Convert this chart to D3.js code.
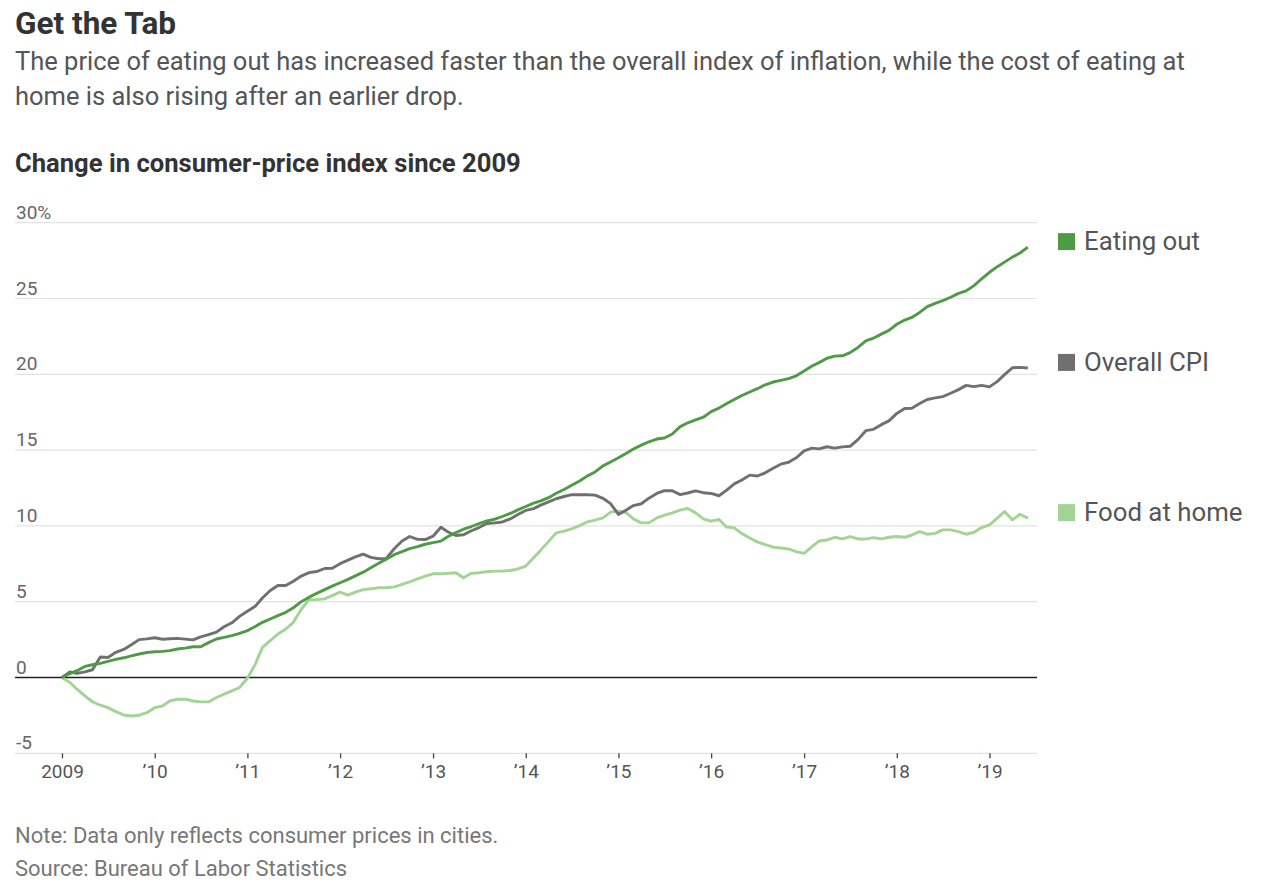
<!DOCTYPE html>
<html>
<head>
<meta charset="utf-8">
<script src="https://cdn.jsdelivr.net/npm/d3@7"></script>
<style>
  body { margin: 0; background: #fff; }
  svg text { font-family: Roboto, "Open Sans", sans-serif; }
</style>
</head>
<body>
<div id="chart"></div>
<script>
// monthly values, Jan 2009 - Jun 2019, % change since Jan 2009
var eatingOut = [
    0, 0.26, 0.45, 0.73, 0.84, 0.93, 1.06, 1.2, 1.3, 1.43, 1.55, 1.65,
    1.7, 1.72, 1.77, 1.88, 1.94, 2.03, 2.03, 2.3, 2.54, 2.65, 2.76, 2.91,
    3.09, 3.36, 3.64, 3.86, 4.08, 4.3, 4.6, 5.0, 5.3, 5.55, 5.8, 6.03,
    6.25, 6.47, 6.7, 6.95, 7.24, 7.53, 7.8, 8.1, 8.3, 8.5, 8.63, 8.79,
    8.9, 9.0, 9.3, 9.56, 9.78, 9.96, 10.15, 10.33, 10.44, 10.62, 10.82, 11.06,
    11.28, 11.5, 11.65, 11.86, 12.15, 12.4, 12.68, 12.96, 13.3, 13.56, 13.96, 14.22,
    14.5, 14.8, 15.07, 15.33, 15.55, 15.73, 15.8, 16.06, 16.55, 16.8, 17.0, 17.17,
    17.54, 17.77, 18.05, 18.34, 18.6, 18.83, 19.05, 19.31, 19.49, 19.6, 19.72, 19.9,
    20.22, 20.55, 20.77, 21.06, 21.2, 21.22, 21.43, 21.77, 22.2, 22.38, 22.65, 22.9,
    23.3, 23.58, 23.75, 24.08, 24.46, 24.68, 24.86, 25.08, 25.34, 25.5, 25.85, 26.3,
    26.73, 27.1, 27.4, 27.73, 28.0, 28.39
];

var overallCPI = [
    0, 0.36, 0.27, 0.37, 0.51, 1.35, 1.32, 1.66, 1.85, 2.16, 2.5, 2.55,
    2.62, 2.52, 2.56, 2.58, 2.53, 2.48, 2.68, 2.83, 2.99, 3.35, 3.61, 4.03,
    4.37, 4.7, 5.24, 5.74, 6.07, 6.07, 6.35, 6.69, 6.92, 6.99, 7.19, 7.21,
    7.51, 7.74, 7.96, 8.14, 7.92, 7.83, 7.86, 8.49, 9.0, 9.3, 9.11, 9.1,
    9.32, 9.91, 9.6, 9.37, 9.42, 9.68, 9.89, 10.16, 10.2, 10.26, 10.46, 10.75,
    11.02, 11.14, 11.37, 11.58, 11.79, 11.94, 12.06, 12.05, 12.05, 12.03, 11.82, 11.47,
    10.76, 11.05, 11.34, 11.46, 11.83, 12.14, 12.32, 12.32, 12.06, 12.17, 12.31, 12.19,
    12.14, 11.99, 12.34, 12.77, 13.03, 13.35, 13.29, 13.5, 13.8, 14.07, 14.2, 14.49,
    14.95, 15.13, 15.08, 15.22, 15.13, 15.21, 15.25, 15.69, 16.28, 16.37, 16.68, 16.93,
    17.42, 17.74, 17.76, 18.07, 18.34, 18.44, 18.53, 18.75, 18.99, 19.27, 19.19, 19.27,
    19.17, 19.53, 19.98, 20.43, 20.46, 20.42
];

var foodAtHome = [
    0, -0.33, -0.77, -1.21, -1.6, -1.83, -1.99, -2.25, -2.47, -2.54, -2.49, -2.32,
    -1.99, -1.88, -1.55, -1.43, -1.43, -1.55, -1.61, -1.61, -1.32, -1.1, -0.88, -0.66,
    -0.05, 0.88, 1.99, 2.43, 2.87, 3.2, 3.64, 4.5, 5.14, 5.14, 5.19, 5.4,
    5.63, 5.43, 5.63, 5.8, 5.85, 5.92, 5.92, 5.98, 6.14, 6.31, 6.51, 6.69,
    6.84, 6.84, 6.87, 6.91, 6.58, 6.87, 6.91, 6.98, 7.02, 7.02, 7.06, 7.17,
    7.35, 7.9, 8.4, 8.98, 9.54, 9.65, 9.8, 10.02, 10.27, 10.38, 10.53, 10.91,
    10.97, 10.86, 10.46, 10.2, 10.2, 10.53, 10.71, 10.86, 11.04, 11.15, 10.86, 10.46,
    10.31, 10.42, 9.93, 9.87, 9.49, 9.2, 8.94, 8.76, 8.6, 8.54, 8.48, 8.3,
    8.19, 8.63, 9.0, 9.07, 9.25, 9.14, 9.3, 9.14, 9.14, 9.23, 9.14, 9.25,
    9.3, 9.25, 9.4, 9.62, 9.45, 9.51, 9.74, 9.74, 9.62, 9.45, 9.58, 9.89,
    10.07, 10.51, 10.95, 10.4, 10.77, 10.51
];

var seriesNames = ["Eating out", "Overall CPI", "Food at home"];
var yTicks = [-5, 0, 5, 10, 15, 20, 25, 30];

var months = d3.timeMonth.range(new Date(2009, 0, 1), new Date(2019, 6, 1));

var series = [
    { name: seriesNames[2], values: foodAtHome, color: "#a2d494" },
    { name: seriesNames[1], values: overallCPI, color: "#707070" },
    { name: seriesNames[0], values: eatingOut, color: "#4f9b45" }
];

// canvas
const width = 1264, height = 884;
const plotLeft = 15, plotRight = 1037;

const svg = d3.select("#chart").append("svg")
    .attr("width", width)
    .attr("height", height);

// headings
svg.append("text")
    .attr("x", 15).attr("y", 34)
    .attr("font-size", 31.5).attr("font-weight", 700).attr("fill", "#333")
    .text("Get the Tab");

svg.append("text")
    .attr("x", 15).attr("y", 70)
    .attr("font-size", 25.5).attr("fill", "#555")
    .text("The price of eating out has increased faster than the overall index of inflation, while the cost of eating at");

svg.append("text")
    .attr("x", 15).attr("y", 105)
    .attr("font-size", 25.5).attr("fill", "#555")
    .text("home is also rising after an earlier drop.");

svg.append("text")
    .attr("x", 15).attr("y", 172)
    .attr("font-size", 25.6).attr("font-weight", 700).attr("fill", "#333")
    .text("Change in consumer-price index since 2009");

// scales
const x = d3.scaleTime()
    .domain([new Date(2009, 0, 1), new Date(2019, 0, 1)])
    .range([62, 989.5]);

const y = d3.scaleLinear()
    .domain([-5, 30])
    .range([753.3, 222.7]);

// horizontal grid + y labels
const grid = svg.append("g");
grid.selectAll("line")
    .data(yTicks)
    .enter()
    .append("line")
    .attr("x1", plotLeft).attr("x2", plotRight)
    .attr("y1", d => y(d)).attr("y2", d => y(d))
    .attr("stroke", d => d == 0 ? "#222" : "#e3e3e3")
    .attr("stroke-width", d => d == 0 ? 1.3 : 1.2);

grid.selectAll("text")
    .data(yTicks)
    .enter()
    .append("text")
    .attr("x", plotLeft + 1)
    .attr("y", d => y(d) - 4)
    .attr("font-size", 19).attr("fill", "#666")
    .text(d => d == 30 ? "30%" : d);

// x axis
const xAxis = d3.axisBottom(x)
    .ticks(d3.timeYear.every(1))
    .tickSize(5)
    .tickFormat(d => d.getFullYear() == 2009 ? "2009" : "\u2019" + String(d.getFullYear()).slice(2));

const gx = svg.append("g")
    .attr("transform", `translate(0,${y(-5)})`)
    .call(xAxis);
gx.select(".domain").remove();
gx.selectAll(".tick line").attr("stroke", "#444").attr("stroke-width", 1.3);
gx.selectAll(".tick text")
    .attr("y", 11)
    .attr("font-size", 19)
    .attr("fill", "#555")
    .attr("font-family", "Roboto, sans-serif");

// lines
const line = d3.line()
    .x((d, i) => x(months[i]))
    .y(d => y(d));

svg.append("g").selectAll("path")
    .data(series)
    .enter()
    .append("path")
    .attr("d", d => line(d.values))
    .attr("fill", "none")
    .attr("stroke", d => d.color)
    .attr("stroke-width", 2.9)
    .attr("stroke-linejoin", "round");

// legend at the end of each line
const legend = svg.append("g").selectAll("g")
    .data(series)
    .enter()
    .append("g")
    .attr("transform", d => `translate(1058,${y(d.values[d.values.length - 1]) - 6})`);

legend.append("rect")
    .attr("x", 0).attr("y", -8)
    .attr("width", 17).attr("height", 17)
    .attr("fill", d => d.color);

legend.append("text")
    .attr("x", 26).attr("y", 9)
    .attr("font-size", 25.8).attr("fill", "#555")
    .text(d => d.name);

// footnotes
svg.append("text")
    .attr("x", 15).attr("y", 843)
    .attr("font-size", 22).attr("fill", "#777")
    .text("Note: Data only reflects consumer prices in cities.");

svg.append("text")
    .attr("x", 15).attr("y", 876)
    .attr("font-size", 22).attr("fill", "#777")
    .text("Source: Bureau of Labor Statistics");
</script>
</body>
</html>
